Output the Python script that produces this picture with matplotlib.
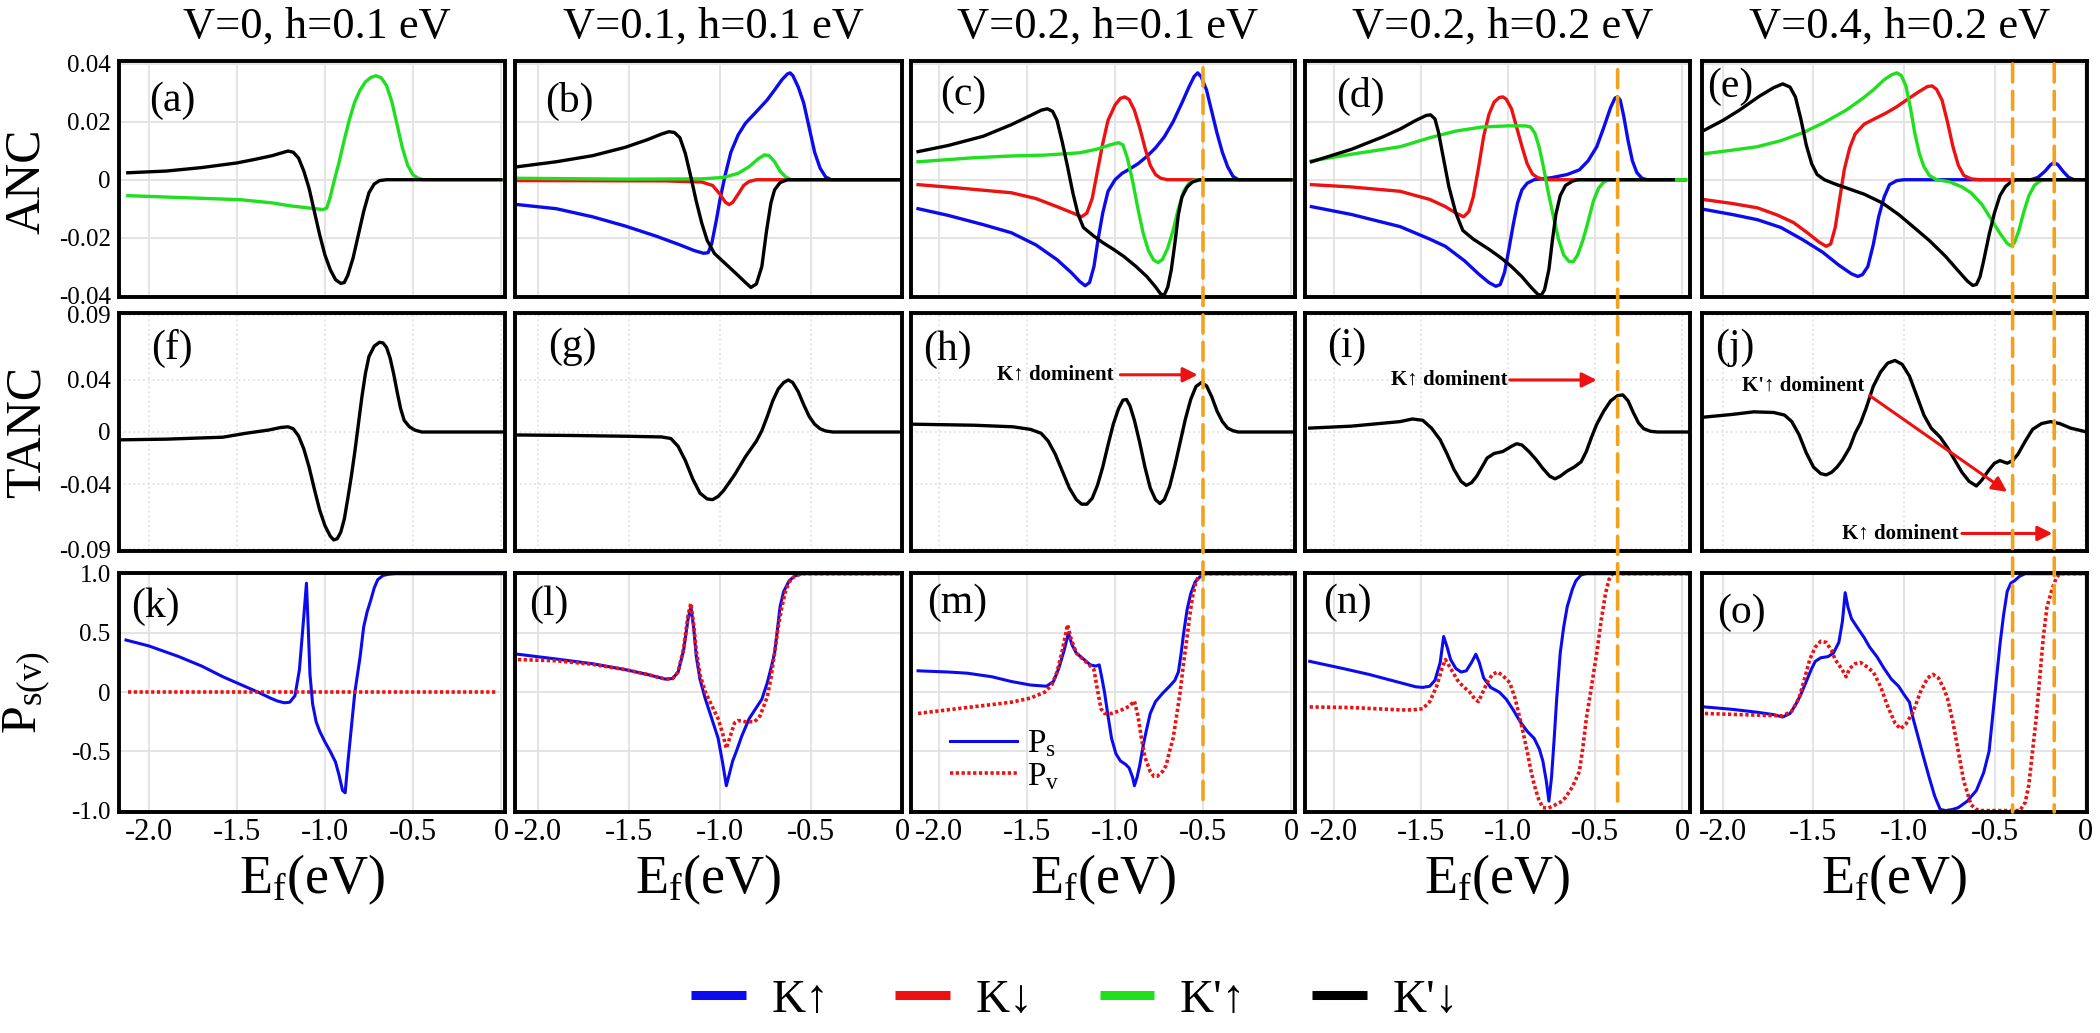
import matplotlib
matplotlib.use('Agg')
import matplotlib.pyplot as plt
from matplotlib.lines import Line2D
from matplotlib.patches import ConnectionPatch

# ---------------- data ----------------
titles = ['V=0, h=0.1 eV', 'V=0.1, h=0.1 eV', 'V=0.2, h=0.1 eV',
          'V=0.2, h=0.2 eV', 'V=0.4, h=0.2 eV']
panel_tags = ['(a)', '(b)', '(c)', '(d)', '(e)',
              '(f)', '(g)', '(h)', '(i)', '(j)',
              '(k)', '(l)', '(m)', '(n)', '(o)']

# ANC, column 1 (V=0): K' curves only (K curves coincide)
a_green_x = [-2.12, -1.8, -1.48, -1.3, -1.2, -1.1, -1.04, -1.01, -0.99, -0.97, -0.95, -0.92, -0.89, -0.86,
             -0.83, -0.80, -0.77, -0.74, -0.71, -0.68, -0.65, -0.62, -0.59, -0.56, -0.53, -0.50, -0.47,
             -0.44, 0.0]
a_green_y = [-0.0055, -0.0062, -0.0069, -0.008, -0.009, -0.0097, -0.0101, -0.0103, -0.0098, -0.006, -0.001,
             0.006, 0.0138, 0.021, 0.027, 0.031, 0.0338, 0.0353, 0.0359, 0.0352, 0.0325, 0.027, 0.019,
             0.011, 0.005, 0.0017, 0.0005, 0.0, 0.0]
a_black_x = [-2.12, -1.9, -1.7, -1.5, -1.4, -1.3, -1.25, -1.21, -1.18, -1.15, -1.12, -1.09, -1.06, -1.03,
             -1.0, -0.97, -0.94, -0.91, -0.89, -0.87, -0.84, -0.81, -0.78, -0.75, -0.72, -0.69, -0.65, 0.0]
a_black_y = [0.0024, 0.003, 0.0042, 0.0058, 0.007, 0.0083, 0.0092, 0.0099, 0.0095, 0.0075, 0.003, -0.003,
             -0.011, -0.019, -0.026, -0.031, -0.0345, -0.0358, -0.0355, -0.033, -0.027, -0.019, -0.011,
             -0.0045, -0.0015, -0.0003, 0.0, 0.0]

# ANC, column 2 (V=0.1, h=0.1)
b_blue_x = [-2.11, -1.9, -1.7, -1.52, -1.35, -1.22, -1.14, -1.09, -1.065, -1.045, -1.02, -1.0, -0.97, -0.94,
            -0.90, -0.86, -0.80, -0.74, -0.70, -0.66, -0.63, -0.615, -0.60, -0.57, -0.54, -0.51, -0.48,
            -0.45, -0.42, -0.39, 0.0]
b_blue_y = [-0.0086, -0.0100, -0.0128, -0.016, -0.0195, -0.0225, -0.0245, -0.0254, -0.0252, -0.022, -0.014,
            -0.0069, 0.002, 0.0095, 0.0155, 0.0195, 0.0235, 0.0276, 0.031, 0.0345, 0.0365, 0.0369, 0.036,
            0.032, 0.0265, 0.018, 0.0095, 0.004, 0.001, 0.0, 0.0]
b_red_x = [-2.11, -1.3, -1.1, -1.04, -1.0, -0.97, -0.95, -0.93, -0.90, -0.87, -0.84, -0.80, 0.0]
b_red_y = [-0.0003, -0.0004, -0.0008, -0.002, -0.005, -0.0078, -0.0086, -0.0078, -0.005, -0.002, -0.0006,
           0.0, 0.0]
b_green_x = [-2.11, -1.5, -1.1, -0.98, -0.90, -0.84, -0.79, -0.755, -0.73, -0.70, -0.67, -0.64, -0.61, 0.0]
b_green_y = [0.0005, 0.0002, 0.0003, 0.0008, 0.0022, 0.0045, 0.0072, 0.0086, 0.0083, 0.0062, 0.003, 0.001,
             0.0, 0.0]
b_black_x = [-2.11, -1.9, -1.7, -1.52, -1.40, -1.32, -1.28, -1.25, -1.22, -1.19, -1.16, -1.13, -1.10, -1.07,
             -1.03, -0.97, -0.91, -0.86, -0.83, -0.80, -0.77, -0.745, -0.72, -0.70, -0.67, -0.63, 0.0]
b_black_y = [0.0045, 0.0062, 0.0083, 0.0112, 0.0138, 0.0158, 0.0166, 0.0163, 0.0145, 0.009, 0.001, -0.0075,
             -0.015, -0.021, -0.0255, -0.029, -0.0325, -0.0355, -0.0372, -0.036, -0.030, -0.018, -0.008,
             -0.0035, -0.001, 0.0, 0.0]

# ANC, column 3 (V=0.2, h=0.1)
c_blue_x = [-2.12, -1.95, -1.75, -1.59, -1.45, -1.33, -1.25, -1.20, -1.17, -1.145, -1.12, -1.095, -1.07,
            -1.04, -1.00, -0.96, -0.92, -0.87, -0.82, -0.77, -0.72, -0.67, -0.62, -0.58, -0.55, -0.53,
            -0.51, -0.48, -0.45, -0.42, -0.39, -0.36, -0.33, -0.30, 0.0]
c_blue_y = [-0.0100, -0.0123, -0.0155, -0.0183, -0.0225, -0.0276, -0.032, -0.0352, -0.0366, -0.0355, -0.030,
            -0.020, -0.0115, -0.004, 0.0, 0.0022, 0.0036, 0.0055, 0.008, 0.011, 0.0148, 0.0200, 0.0265,
            0.032, 0.0357, 0.0369, 0.0355, 0.031, 0.0235, 0.016, 0.0095, 0.0045, 0.0012, 0.0, 0.0]
c_red_x = [-2.12, -1.9, -1.59, -1.45, -1.33, -1.24, -1.19, -1.16, -1.13, -1.10, -1.07, -1.04, -1.00, -0.97,
           -0.945, -0.92, -0.89, -0.86, -0.83, -0.80, -0.77, -0.74, -0.70, 0.0]
c_red_y = [-0.0017, -0.0028, -0.0045, -0.0065, -0.0093, -0.0115, -0.0128, -0.0115, -0.0065, 0.003, 0.0125,
           0.0205, 0.0258, 0.0281, 0.0286, 0.0277, 0.024, 0.018, 0.011, 0.005, 0.0018, 0.0005, 0.0, 0.0]
c_green_x = [-2.12, -1.8, -1.59, -1.40, -1.20, -1.10, -1.03, -0.98, -0.955, -0.93, -0.90, -0.87, -0.84,
             -0.81, -0.78, -0.755, -0.73, -0.70, -0.67, -0.64, -0.61, -0.58, -0.55, -0.52, 0.0]
c_green_y = [0.0062, 0.0076, 0.0082, 0.0085, 0.0093, 0.0106, 0.0120, 0.0128, 0.012, 0.0075, -0.0005, -0.010,
             -0.0185, -0.0245, -0.0278, -0.0286, -0.0275, -0.0235, -0.0175, -0.010, -0.004, -0.0012, -0.0002,
             0.0, 0.0]
c_black_x = [-2.12, -1.95, -1.75, -1.59, -1.48, -1.42, -1.385, -1.355, -1.33, -1.30, -1.27, -1.24, -1.21,
             -1.18, -1.12, -1.07, -1.01, -0.95, -0.88, -0.82, -0.77, -0.74, -0.72, -0.70, -0.68, -0.66,
             -0.64, -0.62, -0.59, -0.56, -0.52, 0.0]
c_black_y = [0.0097, 0.0118, 0.015, 0.019, 0.0222, 0.0240, 0.0245, 0.0236, 0.0205, 0.013, 0.0045, -0.0045,
             -0.012, -0.0165, -0.0195, -0.0217, -0.024, -0.0265, -0.030, -0.0334, -0.037, -0.0395, -0.0398,
             -0.037, -0.031, -0.022, -0.012, -0.006, -0.0025, -0.0008, 0.0, 0.0]

# ANC, column 4 (V=0.2, h=0.2)
d_blue_x = [-2.13, -1.9, -1.62, -1.45, -1.36, -1.25, -1.17, -1.11, -1.07, -1.045, -1.02, -0.995, -0.97,
            -0.945, -0.92, -0.89, -0.85, -0.75, -0.66, -0.59, -0.54, -0.49, -0.45, -0.41, -0.385, -0.37,
            -0.355, -0.335, -0.31, -0.285, -0.26, -0.23, -0.20, 0.02]
d_blue_y = [-0.0093, -0.012, -0.0162, -0.0205, -0.023, -0.028, -0.0325, -0.0355, -0.0368, -0.0362, -0.032,
            -0.024, -0.0155, -0.008, -0.0035, -0.0012, 0.0, 0.0007, 0.0018, 0.0034, 0.0065, 0.0114, 0.018,
            0.025, 0.0282, 0.0286, 0.0275, 0.022, 0.0135, 0.0065, 0.0025, 0.0005, 0.0, 0.0]
d_red_x = [-2.13, -1.9, -1.62, -1.45, -1.36, -1.30, -1.255, -1.225, -1.20, -1.17, -1.14, -1.11, -1.08,
           -1.05, -1.03, -1.01, -0.98, -0.95, -0.92, -0.89, -0.86, -0.83, -0.78, 0.02]
d_red_y = [-0.0017, -0.0025, -0.004, -0.0068, -0.0093, -0.0115, -0.0128, -0.011, -0.006, 0.004, 0.015,
           0.0225, 0.0268, 0.0284, 0.0286, 0.0278, 0.0245, 0.018, 0.0115, 0.0055, 0.002, 0.0007, 0.0, 0.0]
d_green_x = [-2.13, -1.9, -1.62, -1.45, -1.30, -1.15, -1.0, -0.90, -0.87, -0.845, -0.82, -0.795, -0.77,
             -0.74, -0.71, -0.68, -0.65, -0.625, -0.60, -0.57, -0.54, -0.51, -0.48, -0.45, -0.42, 0.02]
d_green_y = [0.0065, 0.0088, 0.0114, 0.0145, 0.0168, 0.0182, 0.0186, 0.0186, 0.0182, 0.016, 0.011, 0.004,
             -0.004, -0.0125, -0.0205, -0.026, -0.0282, -0.0283, -0.026, -0.021, -0.0145, -0.0075, -0.003,
             -0.0008, 0.0, 0.0]
d_black_x = [-2.13, -1.9, -1.72, -1.62, -1.53, -1.47, -1.445, -1.42, -1.40, -1.37, -1.34, -1.30, -1.26,
             -1.20, -1.11, -1.04, -0.98, -0.92, -0.87, -0.83, -0.81, -0.79, -0.765, -0.745, -0.725, -0.70,
             -0.67, -0.63, -0.60, -0.05]
d_black_y = [0.0062, 0.0105, 0.0148, 0.0175, 0.0205, 0.0222, 0.0224, 0.021, 0.0165, 0.007, -0.0024, -0.0115,
             -0.0175, -0.0205, -0.024, -0.027, -0.030, -0.0335, -0.037, -0.0395, -0.040, -0.038, -0.031,
             -0.021, -0.012, -0.0055, -0.002, -0.0005, 0.0, 0.0]

# ANC, column 5 (V=0.4, h=0.2)
e_blue_x = [-2.10, -1.95, -1.81, -1.68, -1.56, -1.45, -1.36, -1.29, -1.255, -1.23, -1.20, -1.17, -1.14,
            -1.11, -1.08, -1.04, -1.0, -0.30, -0.26, -0.22, -0.19, -0.17, -0.15, -0.12, -0.09, -0.06, 0.01]
e_blue_y = [-0.0103, -0.012, -0.0138, -0.0165, -0.0207, -0.025, -0.0295, -0.0325, -0.0334, -0.0328, -0.030,
            -0.0225, -0.0128, -0.006, -0.0017, -0.0003, 0.0, 0.0, 0.0008, 0.003, 0.0052, 0.0059, 0.0052,
            0.0028, 0.0008, 0.0, 0.0]
e_red_x = [-2.10, -1.95, -1.81, -1.70, -1.61, -1.53, -1.47, -1.43, -1.405, -1.38, -1.355, -1.33, -1.30,
           -1.27, -1.22, -1.17, -1.10, -1.04, -0.98, -0.92, -0.87, -0.845, -0.82, -0.79, -0.76, -0.73, -0.70,
           -0.67, -0.63, -0.58, 0.01]
e_red_y = [-0.0069, -0.0082, -0.0097, -0.0122, -0.0148, -0.0185, -0.0215, -0.023, -0.0222, -0.0165, -0.0065,
           0.0035, 0.011, 0.0158, 0.0192, 0.0208, 0.023, 0.0252, 0.0278, 0.0303, 0.0322, 0.0324, 0.0312,
           0.0275, 0.020, 0.0115, 0.005, 0.0015, 0.0003, 0.0, 0.0]
e_green_x = [-2.10, -1.95, -1.81, -1.68, -1.56, -1.44, -1.32, -1.23, -1.17, -1.11, -1.07, -1.04, -1.015,
             -0.99, -0.965, -0.94, -0.915, -0.89, -0.86, -0.82, -0.75, -0.68, -0.63, -0.57, -0.52, -0.47,
             -0.43, -0.41, -0.39, -0.365, -0.34, -0.31, -0.28, -0.25, -0.22, 0.01]
e_green_y = [0.009, 0.0102, 0.0114, 0.0135, 0.0162, 0.0198, 0.024, 0.028, 0.031, 0.0345, 0.0362, 0.0369,
             0.036, 0.0325, 0.025, 0.016, 0.009, 0.0045, 0.0015, 0.0, -0.0007, -0.0025, -0.0045, -0.0085,
             -0.0135, -0.0185, -0.022, -0.0228, -0.0218, -0.0175, -0.0115, -0.0055, -0.002, -0.0005, 0.0, 0.0]
e_black_x = [-2.10, -2.0, -1.91, -1.80, -1.72, -1.67, -1.63, -1.60, -1.57, -1.54, -1.51, -1.48, -1.44, -1.38,
             -1.32, -1.22, -1.12, -1.03, -0.95, -0.86, -0.77, -0.70, -0.65, -0.62, -0.60, -0.58, -0.56,
             -0.53, -0.50, -0.47, -0.44, -0.41, -0.38, 0.01]
e_black_y = [0.0172, 0.0205, 0.024, 0.0288, 0.0318, 0.0331, 0.032, 0.0286, 0.021, 0.012, 0.0055, 0.0018,
             0.0, -0.0015, -0.0028, -0.005, -0.008, -0.012, -0.0162, -0.021, -0.0265, -0.0315, -0.035,
             -0.0365, -0.0362, -0.0335, -0.028, -0.019, -0.0114, -0.0055, -0.0024, -0.0008, 0.0, 0.0]

# TANC
f_x = [-2.15, -1.9, -1.58, -1.45, -1.32, -1.25, -1.21, -1.18, -1.15, -1.12, -1.09, -1.06, -1.03, -1.00,
       -0.97, -0.95, -0.93, -0.91, -0.89, -0.87, -0.85, -0.83, -0.81, -0.79, -0.77, -0.75, -0.72, -0.69,
       -0.67, -0.65, -0.63, -0.61, -0.59, -0.57, -0.55, -0.52, -0.49, -0.45, 0.02]
f_y = [-0.006, -0.0055, -0.004, -0.001, 0.0015, 0.0035, 0.004, 0.0025, -0.003, -0.013, -0.027, -0.044,
       -0.060, -0.072, -0.080, -0.083, -0.082, -0.077, -0.067, -0.051, -0.034, -0.015, 0.006, 0.027, 0.045,
       0.058, 0.066, 0.069, 0.0685, 0.065, 0.057, 0.045, 0.031, 0.018, 0.009, 0.004, 0.0015, 0.0, 0.0]
g_x = [-2.11, -1.8, -1.5, -1.32, -1.27, -1.23, -1.19, -1.15, -1.11, -1.07, -1.04, -1.01, -0.98, -0.95,
       -0.92, -0.89, -0.86, -0.83, -0.80, -0.77, -0.74, -0.71, -0.68, -0.65, -0.625, -0.60, -0.57, -0.54,
       -0.51, -0.48, -0.45, -0.42, -0.38, 0.0]
g_y = [-0.0023, -0.0027, -0.0033, -0.0038, -0.005, -0.011, -0.022, -0.036, -0.047, -0.0515, -0.052,
       -0.0495, -0.045, -0.039, -0.033, -0.026, -0.019, -0.013, -0.007, 0.001, 0.012, 0.024, 0.033, 0.038,
       0.040, 0.038, 0.031, 0.021, 0.012, 0.006, 0.0025, 0.0008, 0.0, 0.0]
h_x = [-2.15, -1.8, -1.58, -1.48, -1.42, -1.38, -1.34, -1.30, -1.26, -1.22, -1.19, -1.16, -1.13, -1.10,
       -1.07, -1.04, -1.01, -0.98, -0.955, -0.935, -0.915, -0.89, -0.86, -0.83, -0.80, -0.77, -0.745,
       -0.72, -0.69, -0.66, -0.63, -0.60, -0.57, -0.54, -0.51, -0.48, -0.45, -0.42, -0.39, -0.36, -0.33,
       -0.30, 0.02]
h_y = [0.006, 0.0052, 0.004, 0.002, -0.001, -0.007, -0.017, -0.030, -0.043, -0.052, -0.0555, -0.0555,
       -0.051, -0.041, -0.027, -0.010, 0.006, 0.018, 0.0245, 0.025, 0.020, 0.009, -0.008, -0.027, -0.043,
       -0.052, -0.055, -0.052, -0.042, -0.026, -0.008, 0.010, 0.025, 0.035, 0.038, 0.0355, 0.027, 0.016,
       0.008, 0.003, 0.001, 0.0, 0.0]
i_x = [-2.14, -1.9, -1.62, -1.55, -1.49, -1.44, -1.39, -1.35, -1.31, -1.27, -1.24, -1.21, -1.18, -1.15,
       -1.12, -1.08, -1.03, -0.98, -0.95, -0.92, -0.88, -0.84, -0.80, -0.76, -0.73, -0.70, -0.66, -0.62,
       -0.58, -0.55, -0.52, -0.49, -0.45, -0.41, -0.37, -0.34, -0.31, -0.28, -0.25, -0.22, -0.18, -0.14,
       0.04]
i_y = [0.003, 0.0045, 0.008, 0.010, 0.009, 0.003, -0.006, -0.017, -0.029, -0.038, -0.041, -0.039, -0.034,
       -0.027, -0.020, -0.0165, -0.015, -0.011, -0.009, -0.010, -0.015, -0.021, -0.028, -0.034, -0.036,
       -0.034, -0.030, -0.027, -0.023, -0.015, -0.004, 0.006, 0.016, 0.024, 0.028, 0.0285, 0.024, 0.015,
       0.007, 0.0025, 0.0005, 0.0, 0.0]
j_x = [-2.10, -1.95, -1.83, -1.72, -1.66, -1.62, -1.58, -1.54, -1.50, -1.46, -1.43, -1.40, -1.37, -1.34,
       -1.30, -1.27, -1.24, -1.21, -1.17, -1.13, -1.09, -1.05, -1.01, -0.97, -0.93, -0.89, -0.85, -0.80,
       -0.76, -0.72, -0.68, -0.64, -0.60, -0.57, -0.53, -0.50, -0.47, -0.43, -0.40, -0.37, -0.33, -0.29,
       -0.24, -0.19, -0.14, -0.08, 0.01]
j_y = [0.0115, 0.0135, 0.0155, 0.015, 0.013, 0.008, -0.002, -0.016, -0.027, -0.032, -0.033, -0.031, -0.027,
       -0.0215, -0.012, -0.001, 0.007, 0.018, 0.035, 0.046, 0.053, 0.055, 0.052, 0.043, 0.028, 0.013,
       0.003, -0.004, -0.012, -0.0215, -0.031, -0.038, -0.0415, -0.037, -0.029, -0.024, -0.022, -0.024,
       -0.022, -0.017, -0.007, 0.002, 0.0065, 0.008, 0.0065, 0.003, 0.0]

# P_s (blue) and P_v (red, dotted)
k_ps_x = [-2.13, -2.0, -1.83, -1.70, -1.58, -1.48, -1.38, -1.31, -1.27, -1.23, -1.20, -1.17, -1.145, -1.125,
          -1.105, -1.095, -1.085, -1.07, -1.05, -1.03, -1.00, -0.97, -0.94, -0.92, -0.90, -0.885, -0.87,
          -0.85, -0.83, -0.80, -0.78, -0.76, -0.74, -0.72, -0.70, -0.67, -0.64, -0.6, 0.02]
k_ps_y = [0.44, 0.39, 0.30, 0.22, 0.13, 0.065, 0.0, -0.05, -0.075, -0.09, -0.085, -0.03, 0.19, 0.55, 0.92,
          0.55, 0.15, -0.1, -0.25, -0.33, -0.42, -0.5, -0.59, -0.70, -0.83, -0.85, -0.6, -0.3, 0.0, 0.3,
          0.55, 0.68, 0.775, 0.88, 0.95, 0.985, 0.995, 1.0, 1.0]
k_pv_x = [-2.12, -0.03]
k_pv_y = [0.0, 0.0]
l_ps_x = [-2.11, -1.9, -1.7, -1.52, -1.40, -1.30, -1.26, -1.23, -1.20, -1.175, -1.16, -1.145, -1.13, -1.11,
          -1.08, -1.05, -1.01, -0.985, -0.965, -0.95, -0.93, -0.91, -0.88, -0.84, -0.80, -0.77, -0.74,
          -0.72, -0.70, -0.685, -0.67, -0.65, -0.62, -0.59, -0.55, 0.0]
l_ps_y = [0.32, 0.28, 0.24, 0.19, 0.15, 0.11, 0.115, 0.17, 0.35, 0.62, 0.72, 0.55, 0.3, 0.11, -0.06, -0.2,
          -0.39, -0.6, -0.79, -0.70, -0.58, -0.50, -0.37, -0.225, -0.13, -0.06, 0.08, 0.2, 0.33, 0.52,
          0.72, 0.85, 0.94, 0.98, 1.0, 1.0]
l_pv_x = [-2.11, -1.9, -1.7, -1.52, -1.40, -1.30, -1.26, -1.23, -1.20, -1.175, -1.16, -1.145, -1.13, -1.11,
          -1.08, -1.04, -1.01, -0.985, -0.965, -0.945, -0.92, -0.90, -0.86, -0.81, -0.78, -0.76, -0.74,
          -0.72, -0.70, -0.68, -0.66, -0.64, -0.62, -0.59, -0.55, 0.0]
l_pv_y = [0.275, 0.265, 0.235, 0.19, 0.15, 0.11, 0.115, 0.17, 0.37, 0.65, 0.75, 0.58, 0.35, 0.15, 0.0, -0.13,
          -0.225, -0.35, -0.475, -0.38, -0.26, -0.24, -0.25, -0.25, -0.2, -0.12, -0.04, 0.12, 0.33, 0.55,
          0.72, 0.85, 0.93, 0.98, 1.0, 1.0]
m_ps_x = [-2.12, -1.95, -1.84, -1.70, -1.59, -1.48, -1.39, -1.35, -1.32, -1.29, -1.265, -1.245, -1.22,
          -1.18, -1.14, -1.11, -1.09, -1.075, -1.06, -1.04, -1.02, -0.995, -0.97, -0.94, -0.92, -0.90,
          -0.89, -0.875, -0.86, -0.84, -0.82, -0.80, -0.77, -0.73, -0.69, -0.66, -0.64, -0.625, -0.61,
          -0.59, -0.57, -0.545, -0.52, -0.49, 0.02]
m_ps_y = [0.18, 0.17, 0.16, 0.13, 0.09, 0.06, 0.05, 0.09, 0.2, 0.35, 0.50, 0.40, 0.33, 0.28, 0.23, 0.22,
          0.23, 0.12, 0.0, -0.2, -0.39, -0.52, -0.58, -0.61, -0.64, -0.72, -0.79, -0.72, -0.62, -0.45,
          -0.31, -0.18, -0.08, -0.01, 0.05, 0.1, 0.17, 0.32, 0.5, 0.70, 0.83, 0.93, 0.97, 1.0, 1.0]
m_pv_x = [-2.12, -1.9, -1.7, -1.59, -1.48, -1.40, -1.36, -1.33, -1.30, -1.27, -1.25, -1.22, -1.18, -1.14,
          -1.12, -1.10, -1.08, -1.06, -1.02, -0.97, -0.92, -0.89, -0.87, -0.85, -0.83, -0.80, -0.78, -0.76,
          -0.73, -0.71, -0.69, -0.67, -0.65, -0.63, -0.61, -0.59, -0.575, -0.56, -0.54, -0.52, 0.02]
m_pv_y = [-0.18, -0.14, -0.105, -0.085, -0.05, 0.0, 0.06, 0.17, 0.35, 0.57, 0.45, 0.33, 0.275, 0.22, 0.19,
          0.02, -0.14, -0.18, -0.18, -0.155, -0.12, -0.075, -0.2, -0.39, -0.55, -0.67, -0.71, -0.71, -0.67,
          -0.62, -0.5, -0.39, -0.2, 0.0, 0.25, 0.47, 0.65, 0.80, 0.93, 1.0, 1.0]
n_ps_x = [-2.14, -1.95, -1.80, -1.62, -1.53, -1.49, -1.45, -1.42, -1.39, -1.37, -1.35, -1.33, -1.30, -1.27,
          -1.24, -1.21, -1.185, -1.165, -1.14, -1.10, -1.05, -1.01, -0.97, -0.93, -0.89, -0.85, -0.82,
          -0.80, -0.78, -0.765, -0.75, -0.735, -0.72, -0.70, -0.68, -0.66, -0.63, -0.61, -0.58, -0.55, 0.04]
n_ps_y = [0.26, 0.2, 0.15, 0.08, 0.045, 0.04, 0.05, 0.1, 0.25, 0.47, 0.38, 0.275, 0.2, 0.17, 0.18, 0.25,
          0.32, 0.25, 0.12, 0.04, 0.0, -0.06, -0.15, -0.25, -0.33, -0.39, -0.48, -0.58, -0.75, -0.92, -0.72,
          -0.4, -0.05, 0.33, 0.55, 0.72, 0.87, 0.94, 0.99, 1.0, 1.0]
n_pv_x = [-2.14, -1.9, -1.62, -1.55, -1.49, -1.45, -1.41, -1.38, -1.36, -1.33, -1.29, -1.26, -1.22, -1.19,
          -1.17, -1.145, -1.12, -1.09, -1.06, -1.03, -0.99, -0.96, -0.94, -0.915, -0.89, -0.87, -0.85,
          -0.825, -0.80, -0.77, -0.74, -0.70, -0.67, -0.63, -0.59, -0.57, -0.55, -0.52, -0.49, -0.465,
          -0.44, -0.42, -0.40, 0.04]
n_pv_y = [-0.125, -0.13, -0.15, -0.15, -0.14, -0.08, 0.05, 0.2, 0.275, 0.2, 0.1, 0.05, 0.0, -0.06, -0.08,
          0.0, 0.08, 0.15, 0.17, 0.14, 0.08, -0.05, -0.17, -0.33, -0.5, -0.65, -0.78, -0.9, -0.975, -0.98,
          -0.96, -0.93, -0.89, -0.8, -0.67, -0.47, -0.225, 0.05, 0.33, 0.6, 0.83, 0.95, 1.0, 1.0]
o_ps_x = [-2.10, -1.95, -1.81, -1.72, -1.67, -1.63, -1.60, -1.57, -1.54, -1.51, -1.49, -1.46, -1.42, -1.39,
          -1.36, -1.34, -1.325, -1.31, -1.29, -1.26, -1.22, -1.19, -1.15, -1.11, -1.07, -1.03, -1.00, -0.97,
          -0.95, -0.92, -0.89, -0.86, -0.83, -0.80, -0.77, -0.73, -0.70, -0.65, -0.60, -0.56, -0.53, -0.51,
          -0.49, -0.47, -0.45, -0.43, -0.41, -0.39, -0.36, -0.33, 0.0]
o_ps_y = [-0.125, -0.145, -0.17, -0.19, -0.21, -0.18, -0.11, -0.02, 0.09, 0.2, 0.26, 0.29, 0.30, 0.33, 0.42,
          0.6, 0.84, 0.72, 0.62, 0.55, 0.46, 0.38, 0.3, 0.2, 0.11, 0.05, -0.02, -0.085, -0.22, -0.39, -0.56,
          -0.725, -0.88, -0.99, -1.0, -0.99, -0.975, -0.92, -0.83, -0.68, -0.5, -0.2, 0.1, 0.4, 0.65, 0.85,
          0.92, 0.94, 0.98, 1.0, 1.0]
o_pv_x = [-2.10, -1.9, -1.67, -1.62, -1.58, -1.55, -1.52, -1.49, -1.46, -1.43, -1.40, -1.38, -1.355, -1.33,
          -1.32, -1.30, -1.27, -1.24, -1.21, -1.17, -1.13, -1.09, -1.05, -1.02, -0.99, -0.95, -0.91, -0.87,
          -0.84, -0.81, -0.78, -0.76, -0.73, -0.70, -0.67, -0.63, -0.60, -0.58, -0.36, -0.33, -0.31, -0.29,
          -0.27, -0.25, -0.23, -0.21, -0.18, -0.16, -0.14, 0.0]
o_pv_y = [-0.18, -0.19, -0.20, -0.16, -0.05, 0.11, 0.28, 0.38, 0.43, 0.42, 0.35, 0.275, 0.22, 0.16, 0.13,
          0.2, 0.24, 0.25, 0.22, 0.17, 0.05, -0.12, -0.26, -0.31, -0.27, -0.17, 0.0, 0.12, 0.15, 0.12, 0.03,
          -0.05, -0.25, -0.5, -0.75, -0.95, -0.99, -1.0, -1.0, -0.93, -0.78, -0.5, -0.225, 0.12, 0.47, 0.72,
          0.88, 0.96, 1.0, 1.0]

# Fermi energies marked by the dashed lines, per column
marker_x = [[], [], [-0.50], [-0.37], [-0.40, -0.17]]

# ---------------- style / layout ----------------
plt.rcParams['font.family'] = ['Liberation Serif', 'DejaVu Serif']
plt.rcParams['mathtext.fontset'] = 'custom'
plt.rcParams['mathtext.rm'] = 'Liberation Serif'
plt.rcParams['mathtext.it'] = 'Liberation Serif:italic'
plt.rcParams['axes.unicode_minus'] = False

BLUE, RED, GREEN, BLACK, ORANGE = '#0b0bee', '#ee1111', '#1fdf1f', 'black', '#f2a21c'
W, H = 2100, 1033
COL_PX = [(119, 505), (515, 902), (911, 1295), (1305, 1690), (1702, 2087)]
ROW_PX = [(61, 297), (313, 551), (573, 812)]
XLIMS = [(-2.17, 0.023), (-2.126, 0.0), (-2.16, 0.023), (-2.167, 0.046), (-2.116, 0.011)]
YLIMS = [(-0.0405, 0.041), (-0.0915, 0.0915), (-1.012, 1.006)]
XTICKS = [-2.0, -1.5, -1.0, -0.5, 0.0]
XTICKLABELS = ['-2.0', '-1.5', '-1.0', '-0.5', '0']
YTICKS = [[-0.04, -0.02, 0, 0.02, 0.04], [-0.09, -0.04, 0, 0.04, 0.09], [-1.0, -0.5, 0, 0.5, 1.0]]
YTICKLABELS = [['-0.04', '-0.02', '0', '0.02', '0.04'], ['-0.09', '-0.04', '0', '0.04', '0.09'],
               ['-1.0', '-0.5', '0', '0.5', '1.0']]
TAG_PX = [(172, 101), (569, 101), (963, 95), (1360, 96), (1730, 87),
          (172, 348), (572, 347), (947, 350), (1347, 347), (1735, 348),
          (155, 607), (549, 605), (957, 603), (1347, 603), (1741, 613)]

anc = [[(a_green_x, a_green_y, GREEN), (a_black_x, a_black_y, BLACK)],
       [(b_blue_x, b_blue_y, BLUE), (b_red_x, b_red_y, RED), (b_green_x, b_green_y, GREEN),
        (b_black_x, b_black_y, BLACK)],
       [(c_blue_x, c_blue_y, BLUE), (c_red_x, c_red_y, RED), (c_green_x, c_green_y, GREEN),
        (c_black_x, c_black_y, BLACK)],
       [(d_blue_x, d_blue_y, BLUE), (d_red_x, d_red_y, RED), (d_green_x, d_green_y, GREEN),
        (d_black_x, d_black_y, BLACK)],
       [(e_blue_x, e_blue_y, BLUE), (e_red_x, e_red_y, RED), (e_green_x, e_green_y, GREEN),
        (e_black_x, e_black_y, BLACK)]]
tanc = [(f_x, f_y), (g_x, g_y), (h_x, h_y), (i_x, i_y), (j_x, j_y)]
pol = [(k_ps_x, k_ps_y, k_pv_x, k_pv_y), (l_ps_x, l_ps_y, l_pv_x, l_pv_y), (m_ps_x, m_ps_y, m_pv_x, m_pv_y),
       (n_ps_x, n_ps_y, n_pv_x, n_pv_y), (o_ps_x, o_ps_y, o_pv_x, o_pv_y)]

DOTS = (0, (0.9, 0.7))

fig = plt.figure(figsize=(21, 10.33), dpi=100)
axes = []
for r, (top, bot) in enumerate(ROW_PX):
    row = []
    for c, (lft, rgt) in enumerate(COL_PX):
        ax = fig.add_axes([lft / W, 1 - bot / H, (rgt - lft) / W, (bot - top) / H])
        ax.set_xlim(*XLIMS[c])
        ax.set_ylim(*YLIMS[r])
        ax.set_xticks(XTICKS)
        ax.set_yticks(YTICKS[r])
        ax.grid(True, color='#e2e2e2', lw=1.3, ls=':' if r == 1 else '-')
        ax.set_axisbelow(True)
        ax.tick_params(length=0)
        ax.tick_params(axis='x', pad=4, labelsize=22)
        ax.tick_params(axis='y', pad=6, labelsize=18)
        if r == 2:
            ax.set_xticklabels(XTICKLABELS)
        else:
            ax.set_xticklabels([])
        if c == 0:
            ax.set_yticklabels(YTICKLABELS[r])
        else:
            ax.set_yticklabels([])
        for s in ax.spines.values():
            s.set_linewidth(2.8)
        row.append(ax)
    axes.append(row)

for c in range(5):
    for x, y, col in anc[c]:
        axes[0][c].plot(x, y, color=col, lw=2.4, solid_joinstyle='round')
    axes[1][c].plot(tanc[c][0], tanc[c][1], color=BLACK, lw=2.4, solid_joinstyle='round')
    psx, psy, pvx, pvy = pol[c]
    axes[2][c].plot(psx, psy, color=BLUE, lw=2.2, solid_joinstyle='round', label=r'P$_\mathrm{s}$')
    axes[2][c].plot(pvx, pvy, color=RED, lw=2.6, ls=DOTS, label=r'P$_\mathrm{v}$')

# panel tags
for k, (px, py) in enumerate(TAG_PX):
    fig.text(px / W, 1 - py / H, panel_tags[k], fontsize=30, ha='center', va='center')

# column titles and x labels
for c, (lft, rgt) in enumerate(COL_PX):
    xc = (lft + rgt) / 2
    fig.text((xc + 5) / W, 1 - 27 / H, titles[c], fontsize=32, ha='center', va='center')
    fig.text(xc / W, 1 - 893 / H, r'E$_\mathrm{f}$(eV)', fontsize=39, ha='center', va='baseline')

# row labels
fig.text(27 / W, 1 - 181 / H, 'ANC', fontsize=36, rotation=90, ha='center', va='center')
fig.text(27 / W, 1 - 432 / H, 'TANC', fontsize=36, rotation=90, ha='center', va='center')
fig.text(27 / W, 1 - 692 / H, r'P$_\mathrm{s(v)}$', fontsize=36, rotation=90, ha='center', va='center')

# dashed markers through the three rows
top_y = {2: 0.0386, 3: 0.038, 4: 0.040}
bot_y = {2: -0.91, 3: -0.92, 4: -1.012}
for c, xs in enumerate(marker_x):
    for xv in xs:
        con = ConnectionPatch(xyA=(xv, top_y[c]), coordsA='data', axesA=axes[0][c],
                              xyB=(xv, bot_y[c]), coordsB='data', axesB=axes[2][c],
                              color=ORANGE, lw=2.6, ls=(0, (5, 2.6)), zorder=10)
        fig.add_artist(con)

# "dominent" annotations
arrow = dict(arrowstyle='-|>', color=RED, lw=2.2, mutation_scale=22, shrinkA=0, shrinkB=0)
notes = [(2, 'K\u2191 dominent', (-1.01, 0.044), (-0.97, 0.044), (-0.53, 0.044)),
         (3, 'K\u2191 dominent', (-1.00, 0.040), (-0.99, 0.040), (-0.49, 0.040)),
         (4, "K'\u2191 dominent", (-1.22, 0.036), (-1.19, 0.028), (-0.43, -0.046)),
         (4, 'K\u2191 dominent', (-0.70, -0.078), (-0.68, -0.078), (-0.18, -0.078))]
for c, txt, tpos, a0, a1 in notes:
    ax = axes[1][c]
    ax.text(tpos[0], tpos[1], txt, fontsize=15, fontweight='bold', ha='right', va='center')
    ax.annotate('', xy=a1, xytext=a0, arrowprops=arrow)

# inset legend in (m)
axes[2][2].legend(loc='lower left', bbox_to_anchor=(0.05, 0.0), frameon=False, fontsize=24,
                  handlelength=2.0, handletextpad=0.3, labelspacing=0.05, borderaxespad=0.2)

# bottom legend
handles = [Line2D([], [], color=col, lw=6.5, solid_capstyle='butt') for col in (BLUE, RED, GREEN, BLACK)]
fig.legend(handles, ['K\u2191', 'K\u2193', "K'\u2191", "K'\u2193"], loc='center',
           bbox_to_anchor=(1075 / W, 1 - 1000 / H), ncol=4, frameon=False, fontsize=34,
           handlelength=1.15, handletextpad=0.55, columnspacing=1.4)

fig.savefig('out.png', dpi=100)
